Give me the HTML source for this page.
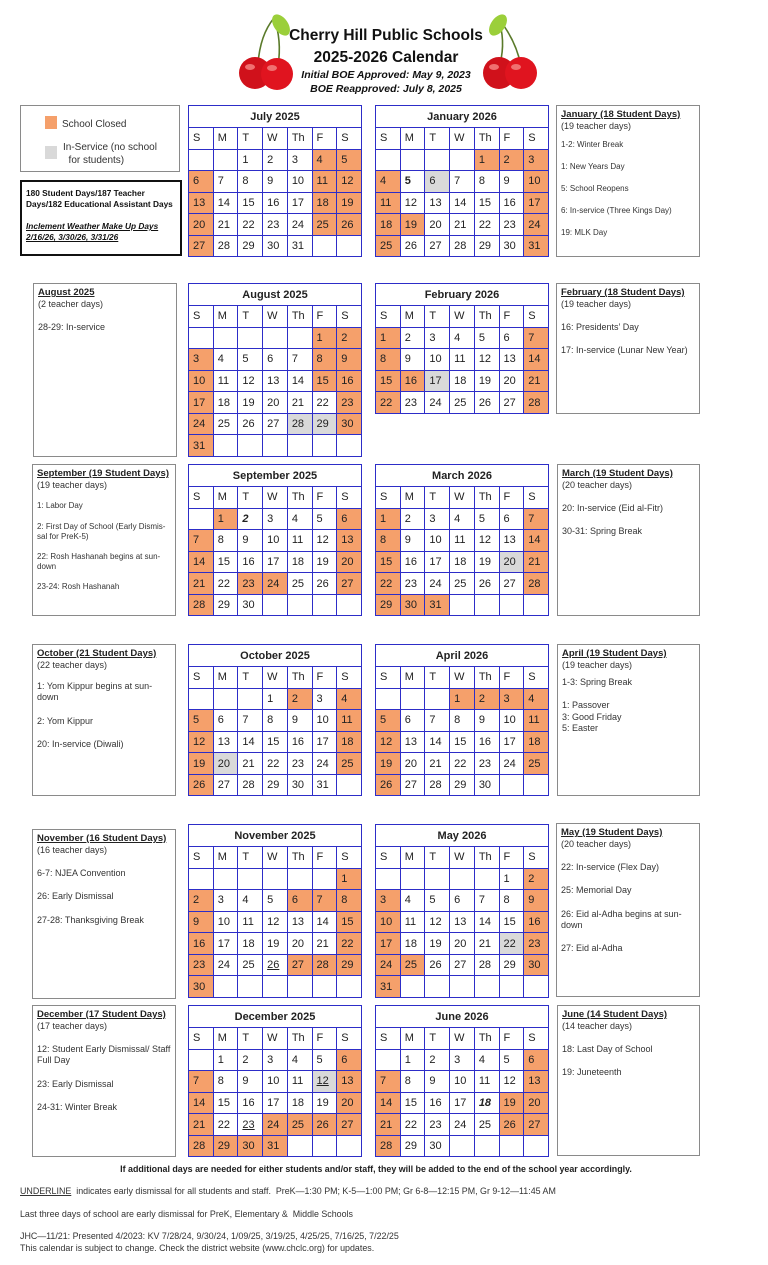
<!DOCTYPE html>
<html><head><meta charset="utf-8"><style>
*{margin:0;padding:0;box-sizing:border-box}
body{width:768px;height:1265px;background:#fff;position:relative;font-family:"Liberation Sans",Arial,sans-serif;color:#222;overflow:hidden}
.a{position:absolute}
table.cal{position:absolute;width:174px;border-collapse:collapse;table-layout:fixed;font-size:11px}
table.cal td{border:1.6px solid #2d2dc8;padding:0 0 0 4px;height:21.6px;text-align:left;vertical-align:middle;white-space:nowrap}
table.cal tr.t td{height:22px;text-align:center;font-weight:bold;font-size:11px;padding:0}
table.cal tr.h td{height:21.5px}
td.o{background:#f5a06b}
td.g{background:#d9d9d9}
.b{font-weight:bold}.bi{font-weight:bold;font-style:italic}.u{text-decoration:underline}
.n{position:absolute;border:1.3px solid #8a8a8a;padding:3px 4px;font-size:9px;line-height:1.25;color:#333}
.n h4{font-size:9.5px;font-weight:bold;text-decoration:underline;color:#222}
.n p{margin-top:0}
.sm{font-size:8px}
</style></head><body>

<svg class="a" style="left:0;top:0" width="768" height="100">
 <g>
  <path d="M258 64 Q260 35 274 18" stroke="#5a7a2a" stroke-width="1.6" fill="none"/>
  <path d="M278 66 Q282 40 274 18" stroke="#5a7a2a" stroke-width="1.6" fill="none"/>
  <ellipse cx="281" cy="25" rx="7" ry="12" transform="rotate(-35 281 25)" fill="#9bcf3a"/>
  <circle cx="255" cy="73" r="16" fill="#d0111b"/>
  <circle cx="277" cy="74" r="16" fill="#e0141f"/>
  <ellipse cx="250" cy="67" rx="5" ry="3" fill="#f07070"/>
  <ellipse cx="272" cy="68" rx="5" ry="3" fill="#f07070"/>
 </g>
 <g>
  <path d="M500 64 Q506 40 498 18" stroke="#5a7a2a" stroke-width="1.6" fill="none"/>
  <path d="M521 66 Q516 40 498 18" stroke="#5a7a2a" stroke-width="1.6" fill="none"/>
  <ellipse cx="498" cy="25" rx="7" ry="12" transform="rotate(35 498 25)" fill="#9bcf3a"/>
  <circle cx="499" cy="73" r="16" fill="#d0111b"/>
  <circle cx="521" cy="73" r="16" fill="#e0141f"/>
  <ellipse cx="494" cy="67" rx="5" ry="3" fill="#f07070"/>
  <ellipse cx="516" cy="67" rx="5" ry="3" fill="#f07070"/>
 </g>
</svg>
<div class="a" style="left:0;width:772px;top:27px;text-align:center;font-weight:bold;font-size:15.5px;color:#111">Cherry Hill Public Schools</div>
<div class="a" style="left:0;width:772px;top:49px;text-align:center;font-weight:bold;font-size:15.5px;color:#111">2025-2026 Calendar</div>
<div class="a" style="left:0;width:772px;top:69px;text-align:center;font-weight:bold;font-style:italic;font-size:10.5px;color:#111">Initial BOE Approved: May 9, 2023</div>
<div class="a" style="left:0;width:772px;top:83px;text-align:center;font-weight:bold;font-style:italic;font-size:10.5px;color:#111">BOE Reapproved: July 8, 2025</div>

<!-- legend -->
<div class="a" style="left:20px;top:105px;width:160px;height:67px;border:1.3px solid #8a8a8a"></div>
<div class="a" style="left:45px;top:116px;width:12px;height:13px;background:#f5a06b"></div>
<div class="a" style="left:62px;top:119px;font-size:10px;color:#333">School Closed</div>
<div class="a" style="left:45px;top:146px;width:12px;height:13px;background:#d9d9d9"></div>
<div class="a" style="left:63px;top:141px;font-size:10px;color:#333;line-height:13px">In-Service (no school<br>&nbsp;&nbsp;for students)</div>
<div class="a" style="left:20px;top:180px;width:162px;height:76px;border:2.5px solid #111;padding:6px 0 0 4px;font-size:8.3px;line-height:11px;color:#111">
<b>180 Student Days/187 Teacher Days/182 Educational Assistant Days</b><br><br>
<b><i><u>Inclement Weather Make Up Days 2/16/26, 3/30/26, 3/31/26</u></i></b></div>

<!-- July -->
<table class="cal" style="left:188px;top:105px"><tr class="t"><td colspan="7">July 2025</td></tr>
<tr class="h"><td>S</td><td>M</td><td>T</td><td>W</td><td>Th</td><td>F</td><td>S</td></tr>
<tr><td></td><td></td><td>1</td><td>2</td><td>3</td><td class="o">4</td><td class="o">5</td></tr>
<tr><td class="o">6</td><td>7</td><td>8</td><td>9</td><td>10</td><td class="o">11</td><td class="o">12</td></tr>
<tr><td class="o">13</td><td>14</td><td>15</td><td>16</td><td>17</td><td class="o">18</td><td class="o">19</td></tr>
<tr><td class="o">20</td><td>21</td><td>22</td><td>23</td><td>24</td><td class="o">25</td><td class="o">26</td></tr>
<tr><td class="o">27</td><td>28</td><td>29</td><td>30</td><td>31</td><td></td><td></td></tr></table>

<table class="cal" style="left:375px;top:105px"><tr class="t"><td colspan="7">January 2026</td></tr>
<tr class="h"><td>S</td><td>M</td><td>T</td><td>W</td><td>Th</td><td>F</td><td>S</td></tr>
<tr><td></td><td></td><td></td><td></td><td class="o">1</td><td class="o">2</td><td class="o">3</td></tr>
<tr><td class="o">4</td><td class="b">5</td><td class="g">6</td><td>7</td><td>8</td><td>9</td><td class="o">10</td></tr>
<tr><td class="o">11</td><td>12</td><td>13</td><td>14</td><td>15</td><td>16</td><td class="o">17</td></tr>
<tr><td class="o">18</td><td class="o">19</td><td>20</td><td>21</td><td>22</td><td>23</td><td class="o">24</td></tr>
<tr><td class="o">25</td><td>26</td><td>27</td><td>28</td><td>29</td><td>30</td><td class="o">31</td></tr></table>

<div class="n" style="left:556px;top:105px;width:144px;height:152px"><h4>January (18 Student Days)</h4><p>(19 teacher days)</p>
<p class="sm" style="margin-top:8px">1-2: Winter Break</p><p class="sm" style="margin-top:12px">1: New Years Day</p><p class="sm" style="margin-top:12px">5: School Reopens</p><p class="sm" style="margin-top:12px">6: In-service (Three Kings Day)</p><p class="sm" style="margin-top:12px">19: MLK Day</p></div>

<!-- August -->
<div class="n" style="left:33px;top:283px;width:144px;height:174px"><h4>August 2025</h4><p>(2 teacher days)</p><p style="margin-top:12px">28-29: In-service</p></div>
<table class="cal" style="left:188px;top:283px"><tr class="t"><td colspan="7">August 2025</td></tr>
<tr class="h"><td>S</td><td>M</td><td>T</td><td>W</td><td>Th</td><td>F</td><td>S</td></tr>
<tr><td></td><td></td><td></td><td></td><td></td><td class="o">1</td><td class="o">2</td></tr>
<tr><td class="o">3</td><td>4</td><td>5</td><td>6</td><td>7</td><td class="o">8</td><td class="o">9</td></tr>
<tr><td class="o">10</td><td>11</td><td>12</td><td>13</td><td>14</td><td class="o">15</td><td class="o">16</td></tr>
<tr><td class="o">17</td><td>18</td><td>19</td><td>20</td><td>21</td><td>22</td><td class="o">23</td></tr>
<tr><td class="o">24</td><td>25</td><td>26</td><td>27</td><td class="g">28</td><td class="g">29</td><td class="o">30</td></tr>
<tr><td class="o">31</td><td></td><td></td><td></td><td></td><td></td><td></td></tr></table>

<table class="cal" style="left:375px;top:283px"><tr class="t"><td colspan="7">February 2026</td></tr>
<tr class="h"><td>S</td><td>M</td><td>T</td><td>W</td><td>Th</td><td>F</td><td>S</td></tr>
<tr><td class="o">1</td><td>2</td><td>3</td><td>4</td><td>5</td><td>6</td><td class="o">7</td></tr>
<tr><td class="o">8</td><td>9</td><td>10</td><td>11</td><td>12</td><td>13</td><td class="o">14</td></tr>
<tr><td class="o">15</td><td class="o">16</td><td class="g">17</td><td>18</td><td>19</td><td>20</td><td class="o">21</td></tr>
<tr><td class="o">22</td><td>23</td><td>24</td><td>25</td><td>26</td><td>27</td><td class="o">28</td></tr></table>
<div class="n" style="left:556px;top:283px;width:144px;height:131px"><h4>February (18 Student Days)</h4><p>(19 teacher days)</p><p style="margin-top:12px">16: Presidents’ Day</p><p style="margin-top:12px">17: In-service (Lunar New Year)</p></div>

<!-- September -->
<div class="n" style="left:32px;top:464px;width:144px;height:152px"><h4>September (19 Student Days)</h4><p>(19 teacher days)</p>
<p class="sm" style="margin-top:10px">1: Labor Day</p><p class="sm" style="margin-top:11px">2: First Day of School (Early Dismis-sal for PreK-5)</p><p class="sm" style="margin-top:10px">22: Rosh Hashanah begins at sun-down</p><p class="sm" style="margin-top:10px">23-24: Rosh Hashanah</p></div>
<table class="cal" style="left:188px;top:464px"><tr class="t"><td colspan="7">September 2025</td></tr>
<tr class="h"><td>S</td><td>M</td><td>T</td><td>W</td><td>Th</td><td>F</td><td>S</td></tr>
<tr><td></td><td class="o">1</td><td class="bi">2</td><td>3</td><td>4</td><td>5</td><td class="o">6</td></tr>
<tr><td class="o">7</td><td>8</td><td>9</td><td>10</td><td>11</td><td>12</td><td class="o">13</td></tr>
<tr><td class="o">14</td><td>15</td><td>16</td><td>17</td><td>18</td><td>19</td><td class="o">20</td></tr>
<tr><td class="o">21</td><td>22</td><td class="o">23</td><td class="o">24</td><td>25</td><td>26</td><td class="o">27</td></tr>
<tr><td class="o">28</td><td>29</td><td>30</td><td></td><td></td><td></td><td></td></tr></table>
<table class="cal" style="left:375px;top:464px"><tr class="t"><td colspan="7">March 2026</td></tr>
<tr class="h"><td>S</td><td>M</td><td>T</td><td>W</td><td>Th</td><td>F</td><td>S</td></tr>
<tr><td class="o">1</td><td>2</td><td>3</td><td>4</td><td>5</td><td>6</td><td class="o">7</td></tr>
<tr><td class="o">8</td><td>9</td><td>10</td><td>11</td><td>12</td><td>13</td><td class="o">14</td></tr>
<tr><td class="o">15</td><td>16</td><td>17</td><td>18</td><td>19</td><td class="g">20</td><td class="o">21</td></tr>
<tr><td class="o">22</td><td>23</td><td>24</td><td>25</td><td>26</td><td>27</td><td class="o">28</td></tr>
<tr><td class="o">29</td><td class="o">30</td><td class="o">31</td><td></td><td></td><td></td><td></td></tr></table>
<div class="n" style="left:557px;top:464px;width:143px;height:152px"><h4>March (19 Student Days)</h4><p>(20 teacher days)</p><p style="margin-top:12px">20: In-service (Eid al-Fitr)</p><p style="margin-top:12px">30-31: Spring Break</p></div>

<!-- October -->
<div class="n" style="left:32px;top:644px;width:144px;height:152px"><h4>October (21 Student Days)</h4><p>(22 teacher days)</p>
<p style="margin-top:10px">1: Yom Kippur begins at sun-down</p><p style="margin-top:12px">2: Yom Kippur</p><p style="margin-top:12px">20: In-service (Diwali)</p></div>
<table class="cal" style="left:188px;top:644px"><tr class="t"><td colspan="7">October 2025</td></tr>
<tr class="h"><td>S</td><td>M</td><td>T</td><td>W</td><td>Th</td><td>F</td><td>S</td></tr>
<tr><td></td><td></td><td></td><td>1</td><td class="o">2</td><td>3</td><td class="o">4</td></tr>
<tr><td class="o">5</td><td>6</td><td>7</td><td>8</td><td>9</td><td>10</td><td class="o">11</td></tr>
<tr><td class="o">12</td><td>13</td><td>14</td><td>15</td><td>16</td><td>17</td><td class="o">18</td></tr>
<tr><td class="o">19</td><td class="g">20</td><td>21</td><td>22</td><td>23</td><td>24</td><td class="o">25</td></tr>
<tr><td class="o">26</td><td>27</td><td>28</td><td>29</td><td>30</td><td>31</td><td></td></tr></table>
<table class="cal" style="left:375px;top:644px"><tr class="t"><td colspan="7">April 2026</td></tr>
<tr class="h"><td>S</td><td>M</td><td>T</td><td>W</td><td>Th</td><td>F</td><td>S</td></tr>
<tr><td></td><td></td><td></td><td class="o">1</td><td class="o">2</td><td class="o">3</td><td class="o">4</td></tr>
<tr><td class="o">5</td><td>6</td><td>7</td><td>8</td><td>9</td><td>10</td><td class="o">11</td></tr>
<tr><td class="o">12</td><td>13</td><td>14</td><td>15</td><td>16</td><td>17</td><td class="o">18</td></tr>
<tr><td class="o">19</td><td>20</td><td>21</td><td>22</td><td>23</td><td>24</td><td class="o">25</td></tr>
<tr><td class="o">26</td><td>27</td><td>28</td><td>29</td><td>30</td><td></td><td></td></tr></table>
<div class="n" style="left:557px;top:644px;width:143px;height:152px"><h4>April (19 Student Days)</h4><p>(19 teacher days)</p><p style="margin-top:6px">1-3: Spring Break</p><p style="margin-top:12px">1: Passover</p><p>3: Good Friday</p><p>5: Easter</p></div>

<!-- November -->
<div class="n" style="left:32px;top:829px;width:144px;height:170px"><h4>November (16 Student Days)</h4><p>(16 teacher days)</p>
<p style="margin-top:12px">6-7: NJEA Convention</p><p style="margin-top:12px">26: Early Dismissal</p><p style="margin-top:12px">27-28: Thanksgiving Break</p></div>
<table class="cal" style="left:188px;top:824px"><tr class="t"><td colspan="7">November 2025</td></tr>
<tr class="h"><td>S</td><td>M</td><td>T</td><td>W</td><td>Th</td><td>F</td><td>S</td></tr>
<tr><td></td><td></td><td></td><td></td><td></td><td></td><td class="o">1</td></tr>
<tr><td class="o">2</td><td>3</td><td>4</td><td>5</td><td class="o">6</td><td class="o">7</td><td class="o">8</td></tr>
<tr><td class="o">9</td><td>10</td><td>11</td><td>12</td><td>13</td><td>14</td><td class="o">15</td></tr>
<tr><td class="o">16</td><td>17</td><td>18</td><td>19</td><td>20</td><td>21</td><td class="o">22</td></tr>
<tr><td class="o">23</td><td>24</td><td>25</td><td class="u">26</td><td class="o">27</td><td class="o">28</td><td class="o">29</td></tr>
<tr><td class="o">30</td><td></td><td></td><td></td><td></td><td></td><td></td></tr></table>
<table class="cal" style="left:375px;top:824px"><tr class="t"><td colspan="7">May 2026</td></tr>
<tr class="h"><td>S</td><td>M</td><td>T</td><td>W</td><td>Th</td><td>F</td><td>S</td></tr>
<tr><td></td><td></td><td></td><td></td><td></td><td>1</td><td class="o">2</td></tr>
<tr><td class="o">3</td><td>4</td><td>5</td><td>6</td><td>7</td><td>8</td><td class="o">9</td></tr>
<tr><td class="o">10</td><td>11</td><td>12</td><td>13</td><td>14</td><td>15</td><td class="o">16</td></tr>
<tr><td class="o">17</td><td>18</td><td>19</td><td>20</td><td>21</td><td class="g">22</td><td class="o">23</td></tr>
<tr><td class="o">24</td><td class="o">25</td><td>26</td><td>27</td><td>28</td><td>29</td><td class="o">30</td></tr>
<tr><td class="o">31</td><td></td><td></td><td></td><td></td><td></td><td></td></tr></table>
<div class="n" style="left:556px;top:823px;width:144px;height:174px"><h4>May (19 Student Days)</h4><p>(20 teacher days)</p><p style="margin-top:12px">22: In-service (Flex Day)</p><p style="margin-top:12px">25: Memorial Day</p><p style="margin-top:12px">26: Eid al-Adha begins at sun-down</p><p style="margin-top:12px">27: Eid al-Adha</p></div>

<!-- December -->
<div class="n" style="left:32px;top:1005px;width:144px;height:152px"><h4>December (17 Student Days)</h4><p>(17 teacher days)</p>
<p style="margin-top:12px">12: Student Early Dismissal/ Staff Full Day</p><p style="margin-top:12px">23: Early Dismissal</p><p style="margin-top:12px">24-31: Winter Break</p></div>
<table class="cal" style="left:188px;top:1005px"><tr class="t"><td colspan="7">December 2025</td></tr>
<tr class="h"><td>S</td><td>M</td><td>T</td><td>W</td><td>Th</td><td>F</td><td>S</td></tr>
<tr><td></td><td>1</td><td>2</td><td>3</td><td>4</td><td>5</td><td class="o">6</td></tr>
<tr><td class="o">7</td><td>8</td><td>9</td><td>10</td><td>11</td><td class="g u">12</td><td class="o">13</td></tr>
<tr><td class="o">14</td><td>15</td><td>16</td><td>17</td><td>18</td><td>19</td><td class="o">20</td></tr>
<tr><td class="o">21</td><td>22</td><td class="u">23</td><td class="o">24</td><td class="o">25</td><td class="o">26</td><td class="o">27</td></tr>
<tr><td class="o">28</td><td class="o">29</td><td class="o">30</td><td class="o">31</td><td></td><td></td><td></td></tr></table>
<table class="cal" style="left:375px;top:1005px"><tr class="t"><td colspan="7">June 2026</td></tr>
<tr class="h"><td>S</td><td>M</td><td>T</td><td>W</td><td>Th</td><td>F</td><td>S</td></tr>
<tr><td></td><td>1</td><td>2</td><td>3</td><td>4</td><td>5</td><td class="o">6</td></tr>
<tr><td class="o">7</td><td>8</td><td>9</td><td>10</td><td>11</td><td>12</td><td class="o">13</td></tr>
<tr><td class="o">14</td><td>15</td><td>16</td><td>17</td><td class="bi">18</td><td class="o">19</td><td class="o">20</td></tr>
<tr><td class="o">21</td><td>22</td><td>23</td><td>24</td><td>25</td><td class="o">26</td><td class="o">27</td></tr>
<tr><td class="o">28</td><td>29</td><td>30</td><td></td><td></td><td></td><td></td></tr></table>
<div class="n" style="left:557px;top:1005px;width:143px;height:151px"><h4>June (14 Student Days)</h4><p>(14 teacher days)</p><p style="margin-top:12px">18: Last Day of School</p><p style="margin-top:12px">19: Juneteenth</p></div>

<!-- footer -->
<div class="a" style="left:0;width:752px;top:1164px;text-align:center;font-weight:bold;font-size:8.9px;color:#222">If additional days are needed for either students and/or staff, they will be added to the end of the school year accordingly.</div>
<div class="a" style="left:20px;top:1186px;font-size:8.9px;color:#333"><u>UNDERLINE</u>&nbsp; indicates early dismissal for all students and staff.&nbsp; PreK—1:30 PM; K-5—1:00 PM; Gr 6-8—12:15 PM, Gr 9-12—11:45 AM</div>
<div class="a" style="left:20px;top:1209px;font-size:8.9px;color:#333">Last three days of school are early dismissal for PreK, Elementary &amp;&nbsp; Middle Schools</div>
<div class="a" style="left:20px;top:1230px;font-size:8.9px;color:#333;line-height:12px">JHC—11/21: Presented 4/2023: KV 7/28/24, 9/30/24, 1/09/25, 3/19/25, 4/25/25, 7/16/25, 7/22/25<br>This calendar is subject to change. Check the district website (www.chclc.org) for updates.</div>
</body></html>
